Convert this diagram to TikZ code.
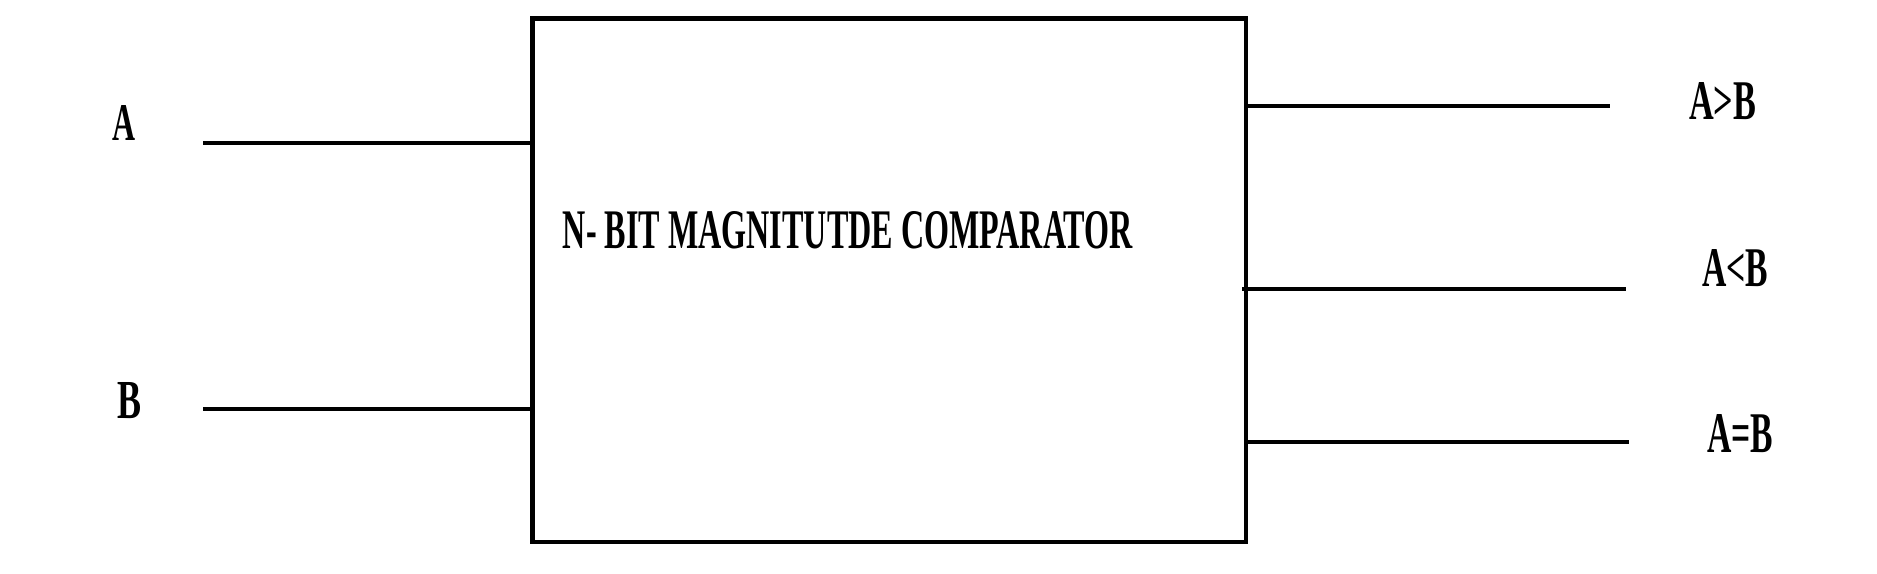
\documentclass[tikz,border=0pt]{standalone}
\usepackage{fontspec}
\setmainfont{Liberation Serif}
\usepackage{graphicx}
\newcommand{\fitlabel}[3]{\resizebox{#1}{#2}{\bfseries #3}}
\begin{document}
\begin{tikzpicture}[x=0.2mm,y=-0.2mm,
  wire/.style={line width=0.9mm},
  boxline/.style={line width=0.9mm},
  lbl/.style={inner sep=0pt,outer sep=0pt,anchor=center}]
\useasboundingbox (0,0) rectangle (1877,573);
% block
\draw[boxline] (532.5,18.5) rectangle (1246,542);
\node[lbl] (title) at (848,230.5) {\fitlabel{114mm}{7.4mm}{N- BIT MAGNITUTDE COMPARATOR}};
% labels
\node[lbl] (la) at (123.5,122.5) {\fitlabel{4.6mm}{7mm}{A}};
\node[lbl] (lb) at (130,401) {\fitlabel{4.8mm}{7.2mm}{B}};
\node[lbl] (lgt) at (1722.5,101.5) {\fitlabel{13.4mm}{7.4mm}{A>B}};
\node[lbl] (llt) at (1735,268.5) {\fitlabel{13.2mm}{7.4mm}{A<B}};
\node[lbl] (leq) at (1740,434) {\fitlabel{13.2mm}{7.6mm}{A=B}};
% wire ends
\coordinate (ain) at (203,143);
\coordinate (aend) at (534,143);
\coordinate (bin) at (203,409);
\coordinate (bend) at (534,409);
\coordinate (o1s) at (1244,106);
\coordinate (o1e) at (1610,106);
\coordinate (o2s) at (1242,289);
\coordinate (o2e) at (1626,289);
\coordinate (o3s) at (1244,442);
\coordinate (o3e) at (1629,442);
\draw[wire] (ain) -- (aend);
\draw[wire] (bin) -- (bend);
\draw[wire] (o1s) -- (o1e);
\draw[wire] (o2s) -- (o2e);
\draw[wire] (o3s) -- (o3e);
\end{tikzpicture}
\end{document}
